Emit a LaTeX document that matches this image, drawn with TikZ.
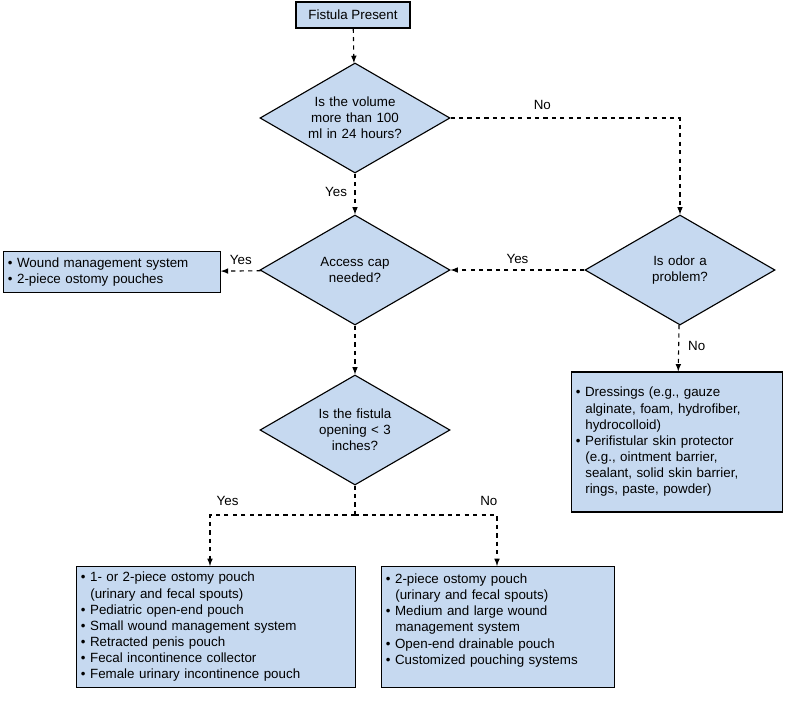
\documentclass[tikz,border=0pt]{standalone}
\usepackage{fontspec}
\setmainfont{Liberation Sans}
\usetikzlibrary{shapes.geometric}
\definecolor{boxblue}{HTML}{C6D9F0}

\begin{document}
\begin{tikzpicture}[x=0.025cm, y=-0.025cm,
    every node/.style={font=\fontsize{9.5}{11.5}\selectfont},
    box/.style={draw=black, fill=boxblue, thick, inner sep=3pt},
    choice/.style={draw=black, fill=boxblue, thick, diamond, aspect=1.73, inner sep=0pt,
        minimum width=4.75cm, minimum height=2.75cm, text width=2.4cm, align=center},
    flow/.style={thick, dashed, -latex}]
    \useasboundingbox (0,0) rectangle (785,704);
    % boxes and questions
    \node[box, minimum width=2.85cm, minimum height=0.65cm] (start) at (353,15) {Fistula Present};
    \node[choice] (volume) at (355,118) {Is the volume more than 100 ml in 24 hours?};
    \node[choice] (cap) at (355,270) {Access cap needed?};
    \node[choice] (size) at (355,430) {Is the fistula\\ opening < 3\\ inches?};
    \node[choice] (odor) at (680,270) {Is odor a problem?};
    \node[box, text width=5.2cm, align=left, minimum height=1.02cm] (wound) at (112,272)
        {\textbullet\ Wound management system\\ \textbullet\ 2-piece ostomy pouches};
    \node[box, text width=5.05cm, align=left, minimum height=3.5cm] (dress) at (677,442)
        {\textbullet\ Dressings (e.g., gauze\\ \hspace*{0.7em}alginate, foam, hydrofiber,\\ \hspace*{0.7em}hydrocolloid)\\
         \textbullet\ Perifistular skin protector\\ \hspace*{0.7em}(e.g., ointment barrier,\\ \hspace*{0.7em}sealant, solid skin barrier,\\ \hspace*{0.7em}rings, paste, powder)};
    \node[box, text width=6.75cm, align=left, minimum height=3.02cm] (small) at (216,627)
        {\textbullet\ 1- or 2-piece ostomy pouch\\ \hspace*{0.7em}(urinary and fecal spouts)\\ \textbullet\ Pediatric open-end pouch\\
         \textbullet\ Small wound management system\\ \textbullet\ Retracted penis pouch\\ \textbullet\ Fecal incontinence collector\\
         \textbullet\ Female urinary incontinence pouch};
    \node[box, text width=5.6cm, align=left, minimum height=3.02cm] (large) at (498,627)
        {\textbullet\ 2-piece ostomy pouch\\ \hspace*{0.7em}(urinary and fecal spouts)\\ \textbullet\ Medium and large wound\\
         \hspace*{0.7em}management system\\ \textbullet\ Open-end drainable pouch\\ \textbullet\ Customized pouching systems\\ \mbox{}};
    \coordinate (split) at (355,515);
    % connectors
    \draw[flow] (start) -- (volume);
    \draw[flow] (volume) -- node[pos=0.45, left=2pt] {Yes} (cap);
    \draw[flow] (volume.east) -| node[pos=0.2, above=2pt] {No} (odor.north);
    \draw[flow] (odor) -- node[above=1pt] {Yes} (cap);
    \draw[flow] (cap) -- node[above=1pt] {Yes} (wound);
    \draw[flow] (cap) -- (size);
    \draw[flow] (odor) -- node[pos=0.45, right=3pt] {No} (dress);
    \draw[thick, dashed] (size.south) -- (split);
    \draw[flow] (split) -| node[pos=0.5, anchor=south west, xshift=1pt, yshift=3pt] {Yes} (small.north -| 210,0);
    \draw[flow] (split) -| node[pos=0.5, anchor=south east, xshift=4pt, yshift=3pt] {No} (large.north -| 497,0);
\end{tikzpicture}
\end{document}
